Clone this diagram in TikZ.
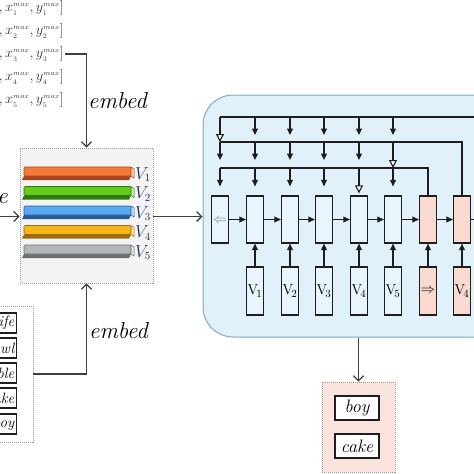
\documentclass[tikz,border=0pt]{standalone}
\usetikzlibrary{arrows.meta}
\definecolor{bgblue}{HTML}{E1F1FA}
\definecolor{bdblue}{HTML}{7DAACB}
\definecolor{cellfill}{HTML}{E8F5FC}
\definecolor{pinkc}{HTML}{FADAD0}
\definecolor{outpink}{HTML}{FBE3DD}
\definecolor{embgray}{HTML}{F3F3F3}
\definecolor{ink}{HTML}{1E1E1E}
\definecolor{navy}{HTML}{1F2F5F}
\definecolor{bor}{HTML}{F47A3A}\definecolor{borD}{HTML}{A4471C}\definecolor{borL}{HTML}{FBC9A8}
\definecolor{bgr}{HTML}{66CC1C}\definecolor{bgrD}{HTML}{2F7A10}\definecolor{bgrL}{HTML}{C8EFA8}
\definecolor{bbl}{HTML}{5AA8EE}\definecolor{bblD}{HTML}{2A5C98}\definecolor{bblL}{HTML}{C4E0FA}
\definecolor{bye}{HTML}{F6B61A}\definecolor{byeD}{HTML}{9A6C0C}\definecolor{byeL}{HTML}{FCE3A4}
\definecolor{bgy}{HTML}{B2B6B6}\definecolor{bgyD}{HTML}{6C7070}\definecolor{bgyL}{HTML}{E2E4E4}
\tikzset{
 ln/.style={draw=ink, line width=1.1pt},
 fa/.style={ln, -{Triangle[length=6.5pt,width=6pt]}},
 oa/.style={ln, -{Triangle[length=8pt,width=8pt,fill=white]}},
 ba/.style={draw=ink!85, line width=1.3pt, -{Straight Barb[length=5pt,width=10pt]}},
 cell/.style={draw=ink, line width=1.3pt, fill=cellfill, minimum width=17pt, minimum height=47pt, inner sep=0pt},
 vbox/.style={cell, minimum height=48pt, font=\fontsize{15}{15}\selectfont},
 pinkcell/.style={fill=pinkc},
 dotbox/.style={draw=gray!80, line width=0.8pt, dash pattern=on 1pt off 1pt},
 wbox/.style={draw=ink, line width=1.3pt, fill=white, inner sep=2pt, minimum height=20pt, font=\fontsize{15}{15}\selectfont\itshape},
 biglab/.style={inner sep=0pt, font=\fontsize{23}{23}\selectfont\itshape},
}
\newcommand{\crow}[1]{$\left[x_{\scriptscriptstyle #1}^{\scriptscriptstyle min},y_{\scriptscriptstyle #1}^{\scriptscriptstyle min},x_{\scriptscriptstyle #1}^{\scriptscriptstyle max},y_{\scriptscriptstyle #1}^{\scriptscriptstyle max}\vphantom{\big|}\right]$}
\begin{document}
\begin{tikzpicture}[x=1pt,y=-1pt]
\useasboundingbox (0,0) rectangle (474,474);

% big rounded box
\node[draw=bdblue, line width=1pt, fill=bgblue, rounded corners=30pt, minimum width=357pt, minimum height=242pt, inner sep=0pt] (rb) at (381.5,216) {};

% embedding box
\node[dotbox, fill=embgray, minimum width=133pt, minimum height=135pt, inner sep=0pt] (emb) at (86.5,215.5) {};
\foreach \yc/\cc/\i in {173.5/bor/1, 193/bgr/2, 212.5/bbl/3, 232/bye/4, 251.5/bgy/5} {
  \fill[\cc D] (24,\yc+2.5) -- (131,\yc+2.5) -- (129,\yc+6.5) -- (22,\yc+6.5) -- cycle;
  \draw[\cc D, fill=\cc, line width=0.6pt, rounded corners=1pt] (24,\yc-6.5) rectangle (131,\yc+2.5);
  \draw[\cc D, fill=\cc L, line width=0.5pt] (131,\yc-6.5) -- (134,\yc-4.5) -- (134,\yc+4.5) -- (131,\yc+2.5) -- cycle;
  \node[font=\fontsize{16}{16}\selectfont, text=navy, inner sep=0pt] (lab\i) at (143,\yc+1) {$V_{\i}$};
}

% coordinate rows
\foreach \i/\y in {1/8,2/31,3/54,4/77,5/100}
  \node[anchor=east, inner sep=1pt, text=ink!90, font=\fontsize{14}{16}\selectfont] (r\i) at (65,\y) {\crow{\i}};
\draw[ba] (r3.east) -| (emb.north);
\node[biglab, anchor=base west] (e1) at (88,108) {embed};

% word list
\node[dotbox, minimum width=53pt, minimum height=136pt, inner sep=0pt] (words) at (6.5,374) {};
\foreach \w/\y/\i in {knife/323/1, bowl/348/2, table/373/3, cake/398/4, boy/424/5}
  \node[wbox, anchor=east] (w\i) at (17,\y) {\w};
\draw[ba] (words.east) -| (emb.south);
\node[biglab, anchor=base west] (e2) at (89,338) {embed};

% image input
\node[biglab, anchor=base east] (img) at (8,203) {image};
\coordinate (inL) at (-10,216.5);
\draw[ba] (inL) -- (inL -| emb.west);
\draw[ba] (emb.east |- inL) -- (inL -| rb.west);

% cells
\foreach \i/\x in {0/220,1/255,2/290,3/324,4/359,5/393}
  \node[cell] (c\i) at (\x,219.5) {};
\node[cell, pinkcell] (c6) at (428,219.5) {};
\node[cell, pinkcell] (c7) at (462,219.5) {};
\node[text=ink!55, font=\fontsize{14}{14}\selectfont, inner sep=0pt] (larr) at (220,220.5) {$\Leftarrow$};

% V boxes
\foreach \i/\x/\t in {1/255/1,2/290/2,3/324/3,4/359/4,5/393/5}
  \node[vbox] (v\i) at (\x,291) {$\mathrm{V}_{\!\t}$};
\node[vbox, pinkcell] (v6) at (428,291) {$\Rightarrow$};
\node[vbox, pinkcell] (v7) at (462,291) {$\mathrm{V}_{\!4}$};

% attention lines
\coordinate (L1s) at (220,117); \coordinate (L1e) at (490,117);
\coordinate (L2s) at (220,142); \coordinate (L2e) at (462,142);
\coordinate (L3s) at (220,168); \coordinate (L3e) at (428,168);
\draw[ln] (L1e) -- (L1s);
\draw[ln] (L2s) -- (L2e) -- (c7.north);
\draw[ln] (L3s) -- (L3e) -- (c6.north);

\draw[oa] (L1s) -- (L2s);
\foreach \i in {1,...,5} \draw[fa, shorten >=7pt] (c\i |- L1s) -- (c\i |- L2s);
\foreach \i in {0,...,4} \draw[fa, shorten >=8pt] (c\i |- L2s) -- (c\i |- L3s);
\draw[oa] (c5 |- L2s) -- (c5 |- L3s);
\foreach \i in {0,1,2,3,5} \draw[fa, shorten >=9pt] (c\i |- L3s) -- (c\i.north);
\draw[oa, shorten >=2pt] (c4 |- L3s) -- (c4.north);

% horizontal chain
\foreach \i/\j in {0/1,1/2,2/3,3/4,4/5,5/6,6/7}
  \draw[fa] (c\i.east) -- (c\j.west);
\coordinate (outR) at (490,219.5);
\draw[fa] (c7.east) -- (outR);

% inputs up
\foreach \i in {1,...,7}
  \draw[fa] (v\i.north) -- (c\i.south);

% output
\node[dotbox, fill=outpink, minimum width=73pt, minimum height=90pt, inner sep=0pt] (out) at (358.5,427) {};
\node[wbox, minimum width=44pt, minimum height=24pt, font=\fontsize{18}{18}\selectfont\itshape] (o1) at (357,408) {boy};
\node[wbox, minimum width=44pt, minimum height=24pt, font=\fontsize{18}{18}\selectfont\itshape] (o2) at (357,446) {cake};
\draw[ba] (out.north |- rb.south) -- (out.north);
\end{tikzpicture}
\end{document}
